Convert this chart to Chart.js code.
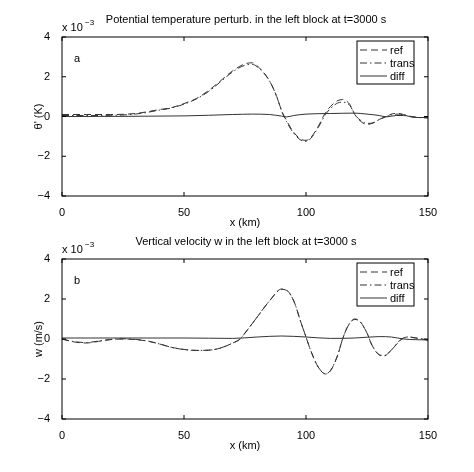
<!DOCTYPE html>
<html><head><script src="https://cdn.jsdelivr.net/npm/chart.js"></script>
<style>body{margin:0;background:#fff}canvas{position:absolute;left:0}</style></head>
<body><div style="position:absolute;top:0;width:474px;height:230px"><canvas id="c1"></canvas></div>
<div style="position:absolute;top:222px;width:474px;height:231px"><canvas id="c2"></canvas></div>
<script>
const xTicks=[0,50,100,150];
const yTicks=[-4,-2,0,2,4];
const seriesNames=['ref','trans','diff'];
const thX=[0,10,20,30,40,45,50,55,60,65,70,75,78,80,85,88,90,92,95,98,100,102,105,108,110,113,115,118,120,123,125,128,130,133,136,138,140,143,146,150];
const thRef=[0.1,0.1,0.1,0.15,0.35,0.45,0.65,0.9,1.3,1.8,2.3,2.65,2.7,2.55,1.8,1.0,0.3,-0.2,-0.8,-1.15,-1.2,-1.05,-0.5,0.2,0.5,0.8,0.85,0.6,0.1,-0.3,-0.4,-0.3,-0.15,0,0.15,0.15,0.1,0,-0.05,-0.05];
const thTrans=[0.05,0.05,0.06,0.12,0.32,0.43,0.62,0.88,1.25,1.75,2.25,2.58,2.62,2.5,1.8,1.0,0.28,-0.25,-0.85,-1.2,-1.25,-1.1,-0.55,0.1,0.4,0.68,0.72,0.55,0.1,-0.25,-0.35,-0.3,-0.15,0,0.1,0.12,0.08,0,-0.05,-0.08];
const thDiffX=[0,50,70,78,85,90,92,95,100,110,120,125,130,133,137,140,145,150];
const thDiff=[0,0.03,0.1,0.12,0.1,0.02,-0.02,0.05,0.12,0.15,0.17,0.12,0.05,-0.02,0.05,0.05,-0.05,-0.05];
const wX=[0,5,10,15,20,25,30,35,40,45,50,55,60,65,70,73,75,80,85,90,92,95,98,100,102,105,108,110,113,115,117,120,122,125,127,130,132,135,138,140,142,145,150];
const wRef=[0,-0.15,-0.2,-0.12,-0.03,0,-0.03,-0.1,-0.25,-0.42,-0.52,-0.57,-0.56,-0.45,-0.2,0,0.3,1.1,1.9,2.5,2.45,1.9,0.8,0.1,-0.6,-1.4,-1.75,-1.6,-0.8,0,0.6,1.0,0.9,0.3,-0.3,-0.8,-0.85,-0.55,-0.15,0.05,0.1,0.05,-0.05];
const wTrans=[0,-0.13,-0.18,-0.1,-0.02,0.01,-0.02,-0.1,-0.25,-0.42,-0.53,-0.57,-0.56,-0.45,-0.2,0,0.3,1.1,1.9,2.48,2.43,1.9,0.8,0.1,-0.6,-1.4,-1.73,-1.58,-0.8,0,0.6,0.98,0.88,0.3,-0.3,-0.78,-0.83,-0.55,-0.12,0.05,0.1,0.05,-0.05];
const wDiffX=[0,20,50,70,80,90,100,110,120,130,135,140,150];
const wDiff=[0.05,0.05,0.05,0.03,0.1,0.15,0.1,0.03,0.05,0.12,0.1,0,-0.05];
const C='#333';
const dashes=[[7,4],[7,3,1.5,3],[]];
function pts(xs,ys){return xs.map((x,i)=>({x,y:ys[i]}));}
function make(id,title,ylabel,letter,top,data){
  const ds=data.map((d,i)=>({label:seriesNames[i],data:d,borderColor:C,borderWidth:1,borderDash:dashes[i],pointRadius:0,tension:0.4,cubicInterpolationMode:'monotone',fill:false}));
  const deco={id:'deco',afterDraw(ch){
    const c=ch.ctx,a=ch.chartArea;c.save();
    c.strokeStyle='#000';c.lineWidth=1;c.strokeRect(a.left,a.top,a.right-a.left,a.bottom-a.top);
    const xs=ch.scales.x,ys=ch.scales.y;
    c.beginPath();
    xTicks.forEach(v=>{const p=xs.getPixelForValue(v);c.moveTo(p,a.bottom);c.lineTo(p,a.bottom-4);c.moveTo(p,a.top);c.lineTo(p,a.top+4);});
    yTicks.forEach(v=>{const p=ys.getPixelForValue(v);c.moveTo(a.left,p);c.lineTo(a.left+4,p);c.moveTo(a.right,p);c.lineTo(a.right-4,p);});
    c.stroke();
    c.fillStyle='#000';c.font='11px "Liberation Sans", Arial';c.textAlign='center';c.textBaseline='alphabetic';
    c.fillText(title,246,top-14);
    c.save();c.translate(39,(a.top+a.bottom)/2);c.rotate(-Math.PI/2);c.textBaseline='middle';c.fillText(ylabel,0,0);c.restore();
    c.textAlign='left';c.fillText('x 10',62,top-6);c.font='8px "Liberation Sans"';c.fillText('\u22123',85,top-12);
    c.font='11px "Liberation Sans"';c.fillText(letter,74,top+25);
    const lx=357,ly=a.top+4,lw=57,lh=43;
    c.fillStyle='#fff';c.fillRect(lx,ly,lw,lh);c.strokeRect(lx,ly,lw,lh);
    seriesNames.forEach((n,i)=>{const yy=ly+9+i*13;c.setLineDash(dashes[i]);c.strokeStyle=C;c.beginPath();c.moveTo(lx+3,yy);c.lineTo(lx+30,yy);c.stroke();c.setLineDash([]);c.fillStyle='#000';c.textBaseline='middle';c.fillText(n,lx+33,yy+1);});
    c.restore();}};
  new Chart(document.getElementById(id),{type:'line',data:{datasets:ds},plugins:[deco],
    options:{responsive:true,maintainAspectRatio:false,animation:false,
      layout:{padding:{left:0,top:top,right:46,bottom:0}},
      plugins:{legend:{display:false},tooltip:{enabled:false}},
      scales:{
        x:{type:'linear',min:0,max:150,afterBuildTicks:s=>{s.ticks=xTicks.map(v=>({value:v}))},grid:{display:false},border:{display:false},
          ticks:{color:'#000',font:{size:11,family:'Liberation Sans'},maxRotation:0,padding:2},
          title:{display:true,text:'x (km)',color:'#000',font:{size:11,family:'Liberation Sans'},padding:0},afterFit:s=>{s.height=34}},
        y:{min:-4,max:4,afterBuildTicks:s=>{s.ticks=yTicks.map(v=>({value:v}))},grid:{display:false},border:{display:false},
          ticks:{color:'#000',font:{size:11,family:'Liberation Sans'},padding:4,callback:v=>v<0?'\u2212'+(-v):''+v},
          afterFit:s=>{s.width=62}}}}});
}
make('c1','Potential temperature perturb. in the left block at t=3000 s',"\u03b8' (K)",'a',37,[pts(thX,thRef),pts(thX,thTrans),pts(thDiffX,thDiff)]);
make('c2','Vertical velocity w in the left block at t=3000 s','w (m/s)','b',37,[pts(wX,wRef),pts(wX,wTrans),pts(wDiffX,wDiff)]);
</script></body></html>
